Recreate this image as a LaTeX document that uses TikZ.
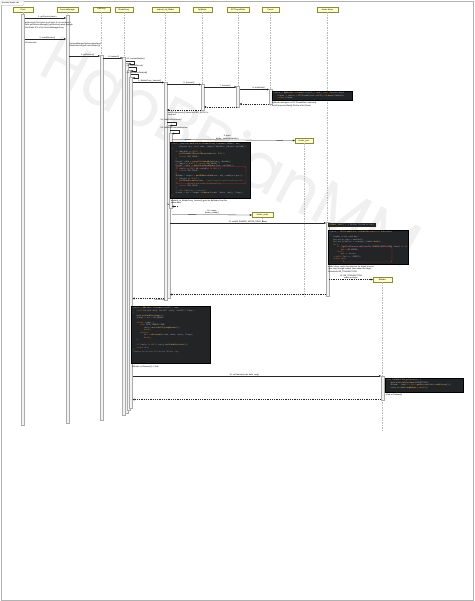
\documentclass[tikz,border=0pt]{standalone}
\usepackage{fontspec}
\setmainfont{Liberation Sans}
\setmonofont{DejaVu Sans Mono}
\newfontfamily\wmfont{Poppins}
\usetikzlibrary{arrows.meta}
\definecolor{headfill}{HTML}{FEFECE}
\definecolor{headdraw}{HTML}{8A8A3C}
\definecolor{codebg}{HTML}{232425}
\definecolor{codefg}{HTML}{A9B7C6}
\definecolor{ckw}{HTML}{CC7832}
\definecolor{cstr}{HTML}{6A8759}
\definecolor{cfn}{HTML}{FFC66D}
\definecolor{ccm}{HTML}{808080}
\definecolor{hlred}{HTML}{B03030}
\newcommand{\kwc}[1]{\textcolor{ckw}{#1}}
\newcommand{\strc}[1]{\textcolor{cstr}{#1}}
\newcommand{\fnc}[1]{\textcolor{cfn}{#1}}
\newcommand{\cmc}[1]{\textcolor{ccm}{#1}}
\newcommand{\myind}[1]{\hspace*{#1em}}
\tikzset{
  head/.style={draw=headdraw, fill=headfill, line width=0.4pt, minimum height=5pt,
    inner sep=0.3pt, font=\fontsize{2}{2.4}\selectfont},
  act/.style={draw=gray!65, fill=gray!10, line width=0.3pt},
  life/.style={draw=gray!55, line width=0.3pt, dash pattern=on 1.5pt off 1pt},
  msg/.style={draw=black!85, line width=0.3pt, -{Triangle[length=2pt,width=1.8pt]}},
  ret/.style={msg, dash pattern=on 1pt off 0.8pt},
  lbl/.style={font=\fontsize{2}{2.4}\selectfont, inner sep=0.3pt, anchor=south},
  note/.style={font=\fontsize{2}{2.6}\selectfont, align=left, anchor=north west, inner sep=0pt},
  codebox/.style={fill=codebg, draw=black, line width=0.3pt},
  codetxt/.style={anchor=north west, inner sep=0pt, align=left, text=codefg,
    font=\fontsize{1.9}{2.45}\selectfont\ttfamily},
  hl/.style={draw=hlred, line width=0.4pt, rounded corners=1pt}
}
\begin{document}
\begin{tikzpicture}[x=1pt,y=-1pt]
\useasboundingbox (0,0) rectangle (474,601);
\fill[white] (0,0) rectangle (474,601);
% watermark
\node[rotate=-28, text=gray!12, font=\wmfont\fontsize{64}{64}\selectfont] (wm) at (232,150) {HaoBBianMM};
% frame
\draw[gray!60, line width=0.6pt] (1,1) rectangle (473,600);
\draw[gray!70, line width=0.3pt, fill=white] (1,1) -- (24,1) -- (24,4) -- (22.5,5.5) -- (1,5.5) -- cycle;
\node[font=\fontsize{2}{2.4}\selectfont, anchor=west, inner sep=0pt] (tab) at (2,3.3) {process binder call};

% headers
\node[head, minimum width=20pt] (h1) at (23,9.5) {Client};
\node[head, minimum width=21pt] (h2) at (67.5,9.5) {ServiceManager};
\node[head, minimum width=17pt] (h3) at (101.5,9.5) {SMProxy};
\node[head, minimum width=18pt] (h4) at (124,9.5) {BinderProxy};
\node[head, minimum width=27pt] (h5) at (165.5,9.5) {android\_util\_Binder};
\node[head, minimum width=19pt] (h6) at (202.5,9.5) {BpBinder};
\node[head, minimum width=22pt] (h7) at (238,9.5) {IPCThreadState};
\node[head, minimum width=17pt] (h8) at (270.5,9.5) {Parcel};
\node[head, minimum width=21pt] (h9) at (327.5,9.5) {binder driver};
\node[head, minimum width=18pt] (h10) at (304,140.5) {binder\_proc};
\node[head, minimum width=21pt] (h11) at (262.5,215) {binder\_node};
\node[head, minimum width=19pt] (h12) at (382.5,279.5) {BBinder};

% lifelines
\coordinate (e1) at (23,425);
\coordinate (e2) at (67.5,423);
\coordinate (e3) at (101.5,420);
\coordinate (e4) at (124,415);
\coordinate (e5) at (165.5,300);
\coordinate (e6) at (202.5,111);
\coordinate (e7) at (238,108);
\coordinate (e8) at (270.5,105);
\coordinate (e9) at (327.5,297);
\coordinate (e10) at (304,297);
\coordinate (e11) at (262.5,222);
\coordinate (e12) at (382.5,430);
\foreach \i in {1,...,12} {\draw[life] (h\i.south) -- (e\i);}

% activation bars
\draw[act] (21.5,14) rectangle (24.5,425);
\draw[act] (66,15) rectangle (69,423);
\draw[act] (100,55) rectangle (103,420);
\draw[act] (122.5,57) rectangle (125.5,415);
\draw[act] (125.5,63) rectangle (128.5,413);
\draw[act] (127.5,70) rectangle (130.5,410);
\draw[act] (129.5,77) rectangle (132.5,408);
\draw[act] (164,82) rectangle (167,300);
\draw[act] (167,125) rectangle (170,298);
\draw[act] (169,133.5) rectangle (172,208);
\draw[act] (201,84) rectangle (204,110);
\draw[act] (236.5,86.5) rectangle (239.5,107);
\draw[act] (269,89) rectangle (272,104);
\draw[act] (326,222) rectangle (329,296);
\draw[act] (381,376) rectangle (384,400);

% messages
\draw[msg] (24.5,18) coordinate (m1a) -- (66,18) coordinate (m1b) node[lbl, pos=0.55] {1: getService(name)};
\node[note] (n1) at (25,21.5) {getService() first looks up sCache, if it is not there it\\calls getIServiceManager().getService(name) through\\the Binder IPC of the ServiceManagerProxy};
\draw[msg] (24.5,39) coordinate (m2a) -- (66,39) coordinate (m2b) node[lbl, pos=0.55] {2: checkService()};
\node[note] (n2) at (25,41.5) {sCache miss};
\node[note] (n3) at (69.5,42.5) {ServiceManagerNative.asInterface(\\BinderInternal.getContextObject())};
\draw[msg] (69,56) coordinate (m3a) -- (100,56) coordinate (m3b) node[lbl, pos=0.6] {3: getService()};
\draw[msg] (103,58) coordinate (m4a) -- (122.5,58) coordinate (m4b) node[lbl, pos=0.55] {4: transact()};
% self calls on BinderProxy
\draw[msg] (125.5,61) coordinate (s1a) -- (134,61) -- (134,64) -- (128.5,64) coordinate (s1b);
\node[lbl, anchor=south west] (s1l) at (126,60.5) {4.1: transactNative()};
\draw[msg] (128.5,67.5) coordinate (s2a) -- (136,67.5) -- (136,71) -- (130.5,71) coordinate (s2b);
\node[lbl, anchor=south west] (s2l) at (126,67) {4.2: checkParcel()};
\draw[msg] (130.5,74.5) coordinate (s3a) -- (138,74.5) -- (138,78) -- (132.5,78) coordinate (s3b);
\node[lbl, anchor=south west] (s3l) at (126,74) {4.3: getNativeData(obj)};
\draw[msg] (132.5,82.5) coordinate (m5a) -- (164,82.5) coordinate (m5b) node[lbl, pos=0.55] {5: BinderProxy\_transact()};
\draw[msg] (167,84.5) coordinate (m6a) -- (201,84.5) coordinate (m6b) node[lbl, pos=0.65] {6: transact()};
\draw[msg] (204,87) coordinate (m7a) -- (236.5,87) coordinate (m7b) node[lbl, pos=0.65] {7: transact()};
\draw[msg] (239.5,89.5) coordinate (m8a) -- (269,89.5) coordinate (m8b) node[lbl, pos=0.65] {8: writeData()};
\draw[ret] (269,104) coordinate (r8a) -- (239.5,104) coordinate (r8b);
\draw[ret] (236.5,107) coordinate (r7a) -- (204,107) coordinate (r7b);
\draw[ret] (201,110) coordinate (r6a) -- (167,110) coordinate (r6b);
\node[note] (n5) at (168,111.5) {waitForResponse() blocks until BR\_REPLY is\\returned};
% self calls on JNI
\draw[msg] (167,122) coordinate (s4a) -- (176,122) -- (176,125.5) -- (170,125.5) coordinate (s4b);
\node[lbl, anchor=south west] (s4l) at (160,121.5) {5.1: waitForResponse()};
\draw[msg] (170,130) coordinate (s5a) -- (179,130) -- (179,133.5) -- (172,133.5) coordinate (s5b);
\node[lbl, anchor=south west] (s5l) at (160,129.5) {5.2: talkWithDriver(doReceive)};
\draw[msg] (172,139.5) coordinate (m9a) -- (h10.west) node[lbl, pos=0.45, align=center] {9: open\\binder\_open(/dev/binder)};
\draw[ret] (178,206.5) coordinate (r9a) -- (172,206.5) coordinate (r9b);
\node[lbl, anchor=south west] (r9l) at (167,205.8) {fd};
\draw[msg] (172,214.5) coordinate (m10a) -- (h11.west) node[lbl, midway, align=center] {10: mmap\\binder\_mmap()};
\draw[msg] (170,223) coordinate (m11a) -- (326,223) coordinate (m11b) node[lbl, pos=0.5] {11: ioctl(fd, BINDER\_WRITE\_READ, \&bwr)};
\draw[ret] (329,279.5) coordinate (m12a) -- (h12.west) node[lbl, midway, align=center] {12: BR\_TRANSACTION\\wake up target};
\draw[ret] (326,294.5) coordinate (r11a) -- (170,294.5) coordinate (r11b);
\draw[ret] (164,298.5) coordinate (r5a) -- (132.5,298.5) coordinate (r5b);
\node[lbl] (r5l) at (160,301.5) {return reply};
\draw[msg] (132.5,376) coordinate (m13a) -- (381,376) coordinate (m13b) node[lbl, pos=0.45] {13: onTransact(code, data, reply)};
\draw[ret] (381,399.5) coordinate (r13a) -- (132.5,399.5) coordinate (r13b);

% code box A
\draw[codebox] (272,91) rectangle (352,100.5);
\node[codetxt] (ca) at (273.5,92) {status\_t \fnc{BpBinder::transact}(uint32\_t code, \kwc{const} Parcel\& data)\\
\myind{2}status\_t status = IPCThreadState::\fnc{self}()->\fnc{transact}(mHandle,\\
\myind{2}\kwc{return} status;};
\node[note] (n4) at (272,102) {BpBinder delegates to IPCThreadState::transact(),\\writeTransactionData() fills the mOut Parcel};

% code box B
\draw[codebox] (170,142) rectangle (250,198);
\node[codetxt] (cb) at (171.5,143.2) {\kwc{static} jboolean \fnc{android\_os\_BinderProxy\_transact}(JNIEnv* env,\\
\myind{4}jobject obj, jint code, jobject dataObj, jobject replyObj)\\
\{\\
\myind{2}\kwc{if} (dataObj == \kwc{NULL}) \{\\
\myind{4}\fnc{jniThrowNullPointerException}(env, \kwc{NULL});\\
\myind{4}\kwc{return} JNI\_FALSE;\\
\myind{2}\}\\
\myind{2}Parcel* data = \fnc{parcelForJavaObject}(env, dataObj);\\
\myind{2}\kwc{if} (data == \kwc{NULL}) \{ \kwc{return} JNI\_FALSE; \}\\
\myind{2}Parcel* reply = \fnc{parcelForJavaObject}(env, replyObj);\\
\myind{2}\kwc{if} (reply == \kwc{NULL} \&\& replyObj != \kwc{NULL}) \{\\
\myind{4}\kwc{return} JNI\_FALSE;\\
\myind{2}\}\\
\myind{2}IBinder* target = \fnc{getBPNativeData}(env, obj)->mObject.get();\\
\myind{2}\kwc{if} (target == \kwc{NULL}) \{\\
\myind{4}\fnc{jniThrowException}(env, \strc{"java/lang/IllegalStateException"},\\
\myind{8}\strc{"Binder has been finalized!"});\\
\myind{4}\kwc{return} JNI\_FALSE;\\
\myind{2}\}\\
\myind{2}\cmc{// call BpBinder::transact()}\\
\myind{2}status\_t err = target->\fnc{transact}(code, *data, reply, flags);\\
\}};
\draw[hl] (176,166.5) rectangle (246,183.5);
\node[note] (n6) at (171,199.5) {android\_os\_BinderProxy\_transact() gets the BpBinder from the\\native data};

% code box C (title) and D
\fill[codebg] (328,223) rectangle (376,227.5);
\node[codetxt, font=\fontsize{1.9}{2.2}\selectfont\ttfamily] (cc) at (329.5,223.8) {\fnc{binder\_ioctl}() -> binder\_thread\_write()};
\draw[codebox] (328,230) rectangle (408,264.5);
\node[codetxt] (cd) at (329.5,231.2) {status\_t \fnc{IPCThreadState::talkWithDriver}(\kwc{bool} doReceive)\\
\{\\
\myind{2}binder\_write\_read bwr;\\
\myind{2}bwr.write\_size = outAvail;\\
\myind{2}bwr.write\_buffer = (uintptr\_t)mOut.\fnc{data}();\\
\myind{2}\kwc{do} \{\\
\myind{4}\kwc{if} (\fnc{ioctl}(mProcess->mDriverFD, BINDER\_WRITE\_READ, \&bwr) >= \kwc{0})\\
\myind{6}err = NO\_ERROR;\\
\myind{4}\kwc{else}\\
\myind{6}err = -errno;\\
\myind{2}\} \kwc{while} (err == -EINTR);\\
\myind{2}\kwc{return} err;};
\draw[hl] (343,246.5) rectangle (392,262);
\node[note] (n7) at (328,265.5) {binder driver copies the data into the target process\\(one copy through mmap), then wakes the target\\thread with BR\_TRANSACTION};

% code box E
\draw[codebox] (131,306) rectangle (210,363);
\node[codetxt] (ce) at (132.5,307.2) {status\_t \fnc{BBinder::transact}(uint32\_t code,\\
\myind{2}\kwc{const} Parcel\& data, Parcel* reply, uint32\_t flags)\\
\{\\
\myind{2}data.\fnc{setDataPosition}(\kwc{0});\\
\myind{2}status\_t err = NO\_ERROR;\\
\\
\myind{2}\kwc{switch} (code) \{\\
\myind{4}\kwc{case} PING\_TRANSACTION:\\
\myind{6}reply->\fnc{writeInt32}(\fnc{pingBinder}());\\
\myind{6}\kwc{break};\\
\myind{4}\kwc{default}:\\
\myind{6}err = \fnc{onTransact}(code, data, reply, flags);\\
\myind{6}\kwc{break};\\
\myind{2}\}\\
\\
\myind{2}\kwc{if} (reply != \kwc{NULL}) reply->\fnc{setDataPosition}(\kwc{0});\\
\myind{2}\kwc{return} err;\\
\}\\
\cmc{frameworks/native/libs/binder/Binder.cpp}};
\node[note] (n8) at (132,365.5) {BBinder::onTransact() -> Stub};

% code box F
\draw[codebox] (385,378) rectangle (463,392);
\node[codetxt] (cf) at (386.5,379.2) {\kwc{case} TRANSACTION\_getService: \{\\
\myind{2}data.\fnc{enforceInterface}(DESCRIPTOR);\\
\myind{2}IBinder \_result = \kwc{this}.\fnc{getService}(data.\fnc{readString}());\\
\myind{2}reply.\fnc{writeStrongBinder}(\_result);};
\node[note] (n9) at (386,393.5) {Stub.onTransact()};
\end{tikzpicture}
\end{document}
